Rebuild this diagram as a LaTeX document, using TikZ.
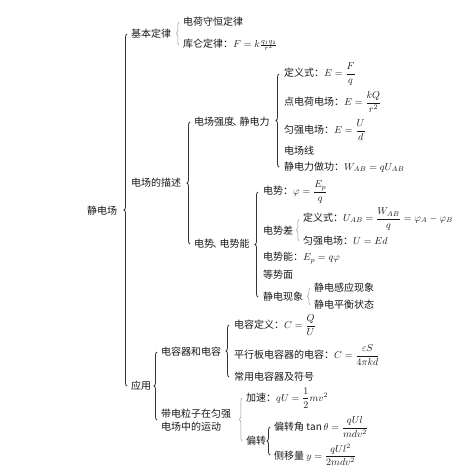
\documentclass[tikz,border=0pt]{standalone}
\usepackage{fontspec}
\setmainfont{Noto Sans CJK SC}
\usetikzlibrary{decorations.pathreplacing,calc}
\newcommand{\fr}[2]{{\displaystyle\frac{#1}{#2}}}
\newcommand{\dun}{\kern-1.5pt、\kern-3pt}
\begin{document}
\begin{tikzpicture}[x=1pt,y=-1pt,
  lbl/.style={anchor=west,inner sep=1pt,font=\fontsize{10}{12.5}\selectfont,text=black!90},
  bigbrace/.style={decorate,decoration={brace,amplitude=3pt},line width=0.8pt,draw=black!80},
  smallbrace/.style={decorate,decoration={brace,amplitude=2.5pt},line width=0.5pt,draw=black!40}]
\useasboundingbox[fill=white] (0,0) rectangle (474,474);
% root
\node[lbl] (root) at (86,211) {静电场};
% level 1
\node[lbl] (jb) at (130,34) {基本定律};
\node[lbl] (ms) at (130,183) {电场的描述};
\node[lbl] (yy) at (130,386) {应用};
% 基本定律
\node[lbl] (jb1) at (182,22) {电荷守恒定律};
\node[lbl] (jb2) at (182,45) {库仑定律：$F=k\frac{q_1q_2}{r^2}$};
% 电场的描述
\node[lbl] (qd) at (193,122) {电场强度\dun 静电力};
\node[lbl] (ds) at (193,244) {电势\dun 电势能};
\node[lbl] (qd1) at (283,74) {定义式：$E=\fr{F}{q}$};
\node[lbl] (qd2) at (283,102) {点电荷电场：$E=\fr{kQ}{r^2}$};
\node[lbl] (qd3) at (283,130) {匀强电场：$E=\fr{U}{d}$};
\node[lbl] (qd4) at (283,151) {电场线};
\node[lbl] (qd5) at (283,167) {静电力做功：$W_{AB}=qU_{AB}$};
\node[lbl] (ds1) at (262,192) {电势：$\varphi=\fr{E_p}{q}$};
\node[lbl] (ds2) at (262,231) {电势差};
\node[lbl] (ds3) at (262,258) {电势能：$E_p=q\varphi$};
\node[lbl] (ds4) at (262,275) {等势面};
\node[lbl] (ds5) at (262,297) {静电现象};
\node[lbl] (dc1) at (302,219) {定义式：$U_{AB}=\fr{W_{AB}}{q}=\varphi_A-\varphi_B$};
\node[lbl] (dc2) at (302,241) {匀强电场：$U=Ed$};
\node[lbl] (jx1) at (313,288) {静电感应现象};
\node[lbl] (jx2) at (313,305) {静电平衡状态};
% 应用
\node[lbl] (dr) at (160,352) {电容器和电容};
\node[lbl,align=left] (lz) at (160,420) {带电粒子在匀强\\电场中的运动};
\node[lbl] (dr1) at (233,325) {电容定义：$C=\fr{Q}{U}$};
\node[lbl] (dr2) at (233,355) {平行板电容器的电容：$C=\fr{\varepsilon S}{4\pi kd}$};
\node[lbl] (dr3) at (233,377) {常用电容器及符号};
\node[lbl] (lz1) at (245,398) {加速：$qU=\fr{1}{2}mv^2$};
\node[lbl] (lz2) at (245,441) {偏转};
\node[lbl] (pz1) at (273,427) {偏转角 $\tan\theta=\fr{qUl}{mdv^2}$};
\node[lbl] (pz2) at (273,455) {侧移量 $y=\fr{qUl^2}{2mdv^2}$};
% braces
\draw[bigbrace] ($(yy.west)+(-3,0)$) -- ($(jb.west)+(-3,0)$);
\draw[smallbrace] ($(jb2.west)+(-3,0)$) -- ($(jb1.west)+(-3,0)$);
\draw[bigbrace] ($(ds.west)+(-3,0)$) -- ($(qd.west)+(-3,0)$);
\draw[bigbrace] ($(qd5.west)+(-4,0)$) -- ($(qd1.west)+(-4,0)$);
\draw[bigbrace] ($(ds5.west)+(-4,0)$) -- ($(ds1.west)+(-4,0)$);
\draw[smallbrace] ($(dc2.west)+(-3,0)$) -- ($(dc1.west)+(-3,0)$);
\draw[smallbrace] ($(jx2.west)+(-3,0)$) -- ($(jx1.west)+(-3,0)$);
\draw[bigbrace] ($(lz.west)+(-3,0)$) -- ($(dr.west)+(-3,0)$);
\draw[bigbrace] ($(dr3.west)+(-4,0)$) -- ($(dr1.west)+(-4,0)$);
\draw[smallbrace] ($(lz2.west)+(-3,0)$) -- ($(lz1.west)+(-3,0)$);
\draw[bigbrace] ($(pz2.west)+(-3,0)$) -- ($(pz1.west)+(-3,0)$);
\end{tikzpicture}
\end{document}
